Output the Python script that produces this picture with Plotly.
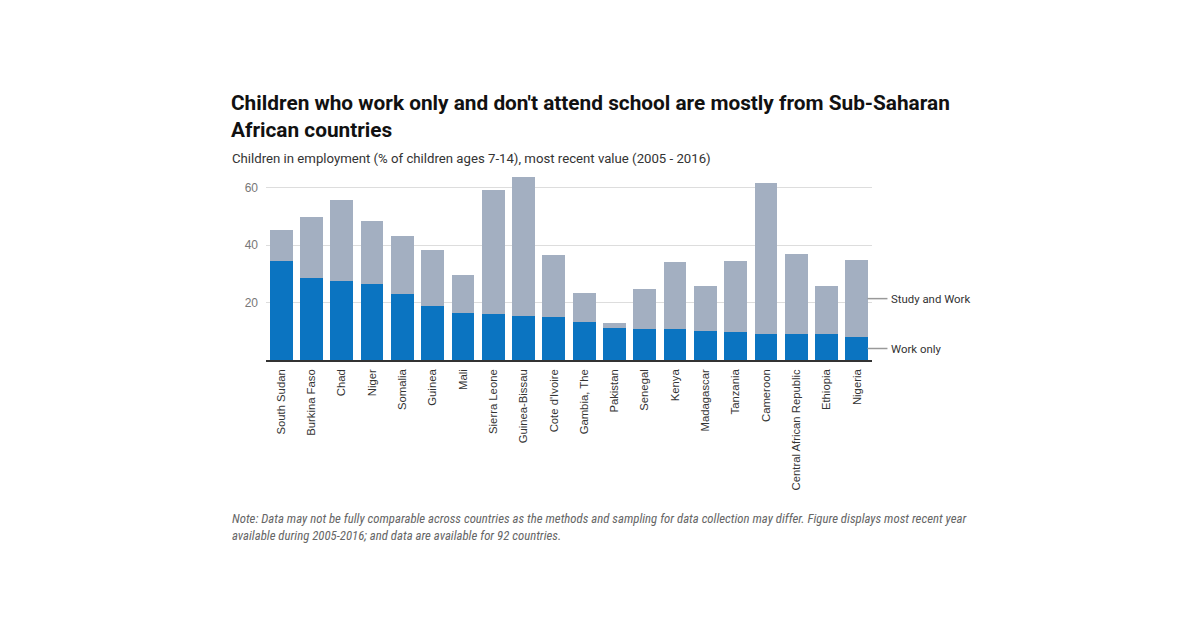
import plotly.graph_objects as go

countries = ["South Sudan", "Burkina Faso", "Chad", "Niger", "Somalia", "Guinea", "Mali",
             "Sierra Leone", "Guinea-Bissau", "Cote d'Ivoire", "Gambia, The", "Pakistan",
             "Senegal", "Kenya", "Madagascar", "Tanzania", "Cameroon",
             "Central African Republic", "Ethiopia", "Nigeria"]
work_only = [34.6, 28.4, 27.4, 26.4, 23.0, 18.8, 16.2, 15.9, 15.3, 14.9, 13.2, 11.2,
             10.9, 10.9, 10.2, 9.9, 9.0, 9.0, 9.0, 8.0]
total_employed = [45.3, 49.9, 55.8, 48.3, 43.3, 38.1, 29.5, 59.1, 63.7, 36.5, 23.3, 12.7,
                  24.7, 34.2, 25.6, 34.5, 61.7, 36.7, 25.9, 34.7]
study_and_work = [round(t - w, 1) for t, w in zip(total_employed, work_only)]
y_ticks = [20, 40, 60]

BLUE = "#0B74C1"
GREY = "#A3AFC1"

fig = go.Figure()
fig.add_trace(go.Bar(x=countries, y=work_only, name="Work only", marker_color=BLUE,
                     marker_line_width=0))
fig.add_trace(go.Bar(x=countries, y=study_and_work, name="Study and Work", marker_color=GREY,
                     marker_line_width=0))

# right-side series labels at the middle of the last bar's segments
last = len(countries) - 1
labels = [("Study and Work", work_only[last] + study_and_work[last] / 2),
          ("Work only", work_only[last] / 2)]
for text, ymid in labels:
    fig.add_shape(type="line", xref="paper", yref="y", x0=0.9926, x1=1.0255, y0=ymid, y1=ymid,
                  line=dict(color="#999999", width=1.5))
    fig.add_annotation(xref="paper", yref="y", x=1.028, y=ymid, text=text, showarrow=False,
                       xanchor="left", yanchor="middle",
                       font=dict(family="Roboto", size=11.4, color="#333333"))

fig.add_annotation(xref="paper", yref="paper", x=-0.0595, y=1.0966,
                   text="Children in employment (% of children ages 7-14), most recent value (2005 - 2016)",
                   showarrow=False, xanchor="left", yanchor="middle",
                   font=dict(family="Roboto", size=13.2, color="#333333"))
fig.add_annotation(xref="paper", yref="paper", x=-0.0595, y=-0.908,
                   text=("Note: Data may not be fully comparable across countries as the methods and sampling for data collection may differ. Figure displays most recent year"
                         "<br>available during 2005-2016; and data are available for 92 countries."),
                   showarrow=False, xanchor="left", yanchor="middle", align="left",
                   font=dict(family="Roboto Condensed, Liberation Sans Narrow, Roboto", size=12.8,
                             color="#666666", style="italic"))

fig.update_layout(
    width=1200, height=630,
    barmode="stack", bargap=0.25,
    showlegend=False,
    plot_bgcolor="white", paper_bgcolor="white",
    margin=dict(l=257.5, r=335.6, t=167.8, b=278),
    title=dict(text="Children who work only and don't attend school are mostly from Sub-Saharan<br>African countries",
               xref="container", yref="container", x=223 / 1200, y=1 - 102 / 630,
               xanchor="left", yanchor="top",
               font=dict(family="Roboto", size=20.8, color="#111111", weight="bold")),
    xaxis=dict(tickangle=-90, showgrid=False, showline=True, linecolor="#333333", linewidth=1.5,
               ticks="", tickfont=dict(family="Liberation Sans, Arial", size=11.3, color="#333333"),
               ticklabelstandoff=3),
    yaxis=dict(range=[0, 64], tickvals=y_ticks, showgrid=True, gridcolor="#DDDDDD", gridwidth=1,
               zeroline=False, showline=False, ticks="",
               tickfont=dict(family="Liberation Sans, Arial", size=12, color="#777777"),
               ticklabelstandoff=7),
)

fig.write_html("out.html")
